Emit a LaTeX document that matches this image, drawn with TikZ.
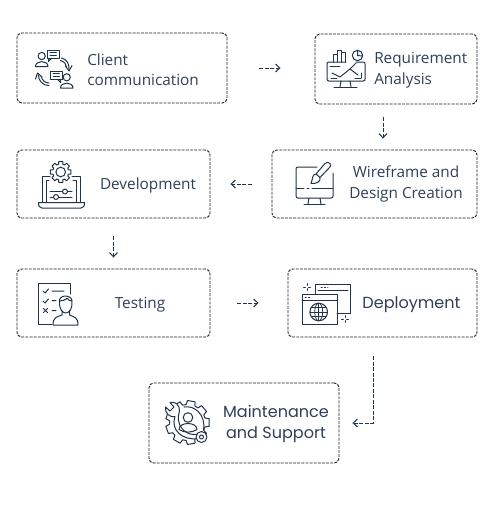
\documentclass[tikz,border=0pt]{standalone}
\usepackage{fontspec}
\setmainfont{Open Sans}
\newfontfamily\popfont{Poppins}
\usetikzlibrary{arrows.meta,calc}
\definecolor{ink}{HTML}{1F3349}
\definecolor{boxink}{HTML}{141F2C}
\definecolor{txt}{HTML}{2E4058}
\tikzset{
  stagebox/.style={draw=boxink,line width=0.7pt,dash pattern=on 2.2pt off 0.9pt,rounded corners=3.5pt,inner sep=0pt,fill=none},
  lbl/.style={text=txt,align=center,inner sep=0pt,font=\fontsize{11.5pt}{15.4pt}\selectfont},
  lblwide/.style={text=txt,align=center,inner sep=0pt,font=\popfont\fontsize{12.05pt}{15.4pt}\selectfont},
  flow/.style={draw=ink,line width=0.65pt,dash pattern=on 3pt off 1.1pt,-{Straight Barb[length=3.2pt,width=6pt,line width=0.75pt]}},
  ic/.style={draw=ink,line width=0.75pt,line cap=round,line join=round},
  icthin/.style={draw=ink,line width=0.55pt,line cap=round,line join=round},
}
\newcommand{\gearshape}[5]{% cx,cy,router,rinner,teeth
  \draw[ic] ($(#1,#2)+({90/#5}:#3)$)
   \foreach \k in {1,...,#5}{
     -- ($(#1,#2)+({(\k-1)*360/#5+90/#5}:#3)$)
     -- ($(#1,#2)+({(\k-1)*360/#5+130/#5}:#4)$)
     -- ($(#1,#2)+({(\k-1)*360/#5+230/#5}:#4)$)
     -- ($(#1,#2)+({(\k-1)*360/#5+270/#5}:#3)$)
   } -- cycle;}
\begin{document}
\begin{tikzpicture}[x=0.75pt,y=-0.75pt]
\useasboundingbox (0,0) rectangle (500,515);
% boxes
\node[stagebox,minimum width=157.5pt,minimum height=52.5pt] (A) at (122,68) {};
\node[stagebox,minimum width=121.5pt,minimum height=52.5pt] (B) at (396,69) {};
\node[stagebox,minimum width=153.75pt,minimum height=51pt] (C) at (374.5,184) {};
\node[stagebox,minimum width=144.75pt,minimum height=51pt] (D) at (113.5,184) {};
\node[stagebox,minimum width=144.75pt,minimum height=51pt] (E) at (113.5,303) {};
\node[stagebox,minimum width=141.75pt,minimum height=51pt] (F) at (382.5,303) {};
\node[stagebox,minimum width=142.5pt,minimum height=60pt] (G) at (244,423) {};
% labels
\node[lbl,anchor=west,align=left] (tA) at (87,69.8) {Client\\communication};
\node[lbl,anchor=west,align=left] (tB) at (374,70) {Requirement\\Analysis};
\node[lbl] (tC) at (406,184) {Wireframe and\\Design Creation};
\node[lbl] (tD) at (148,185.5) {Development};
\node[lbl] (tE) at (140,304.5) {Testing};
\node[lblwide] (tF) at (411.5,304.5) {Deployment};
\node[lblwide] (tG) at (276,424) {Maintenance\\and Support};
% connectors
\coordinate (xb) at (383,0);
\coordinate (xf) at (373,0);
\draw[flow,shorten <=24pt,shorten >=25.5pt] (A.east) -- (A.east -| B.west);
\draw[flow,shorten <=9.75pt,shorten >=8.25pt] (B.south -| xb) -- (C.north -| xb);
\draw[flow,shorten <=15pt,shorten >=15pt] (C.west) -- (D.east);
\draw[flow,shorten <=13.5pt,shorten >=8.25pt] (D.south) -- (E.north);
\draw[flow,shorten <=20.25pt,shorten >=21.75pt] (E.east) -- (F.west);
\draw[flow,shorten <=14pt,shorten >=9.75pt] (F.south -| xf) |- (G.east);
% icon A: client communication
\draw[ic] (41.7,56) circle (3.6);
\draw[ic] (35.5,66.5) .. controls (35.5,60) and (48,60) .. (48,66.5) -- cycle;
\draw[ic] (47.5,50) rectangle (59,58.3);
\draw[ic] (48.5,58.3) -- (48.5,61.5) -- (51.5,58.3);
\draw[icthin] (50,52.5) -- (56.5,52.5) (50,55.2) -- (56.5,55.2);
\draw[ic] (61.5,58) .. controls (66,59) and (69.5,63) .. (69,69.5);
\draw[ic] (65.5,66) -- (69,71) -- (72,65.5);
\draw[ic] (60.5,60.5) .. controls (64,61.5) and (66.5,64) .. (66.5,67);
\draw[ic] (66.7,77.3) circle (3.6);
\draw[ic] (60.5,88) .. controls (60.5,81.5) and (73,81.5) .. (73,88) -- cycle;
\draw[ic] (50.5,71) rectangle (62,79.3);
\draw[ic] (60.5,79.3) -- (60.5,82.5) -- (57.5,79.3);
\draw[icthin] (53,73.5) -- (59.5,73.5) (53,76.2) -- (59.5,76.2);
\draw[ic] (49,85.5) .. controls (43,86) and (38,80) .. (38.5,75);
\draw[ic] (35.5,79) -- (37.5,73) -- (42,77);
\draw[ic] (49,83) .. controls (45,83) and (42,80) .. (41.5,77);
% icon B: requirement analysis
\draw[ic] (346,62) -- (329,62) .. controls (327.5,62) and (327,63) .. (327,64) -- (327,79) .. controls (327,80.5) and (328,81) .. (329,81) -- (363,81) .. controls (365,81) and (365,80) .. (365,79) -- (365,64) .. controls (365,63) and (365,62) .. (363,62) -- (356,62);
\draw[ic] (333,62) -- (333,54) -- (337,54) -- (337,62);
\draw[ic] (337,60) -- (337,50) -- (341,50) -- (341,62);
\draw[ic] (341,60) -- (341,52) -- (345,52) -- (345,62);
\draw[ic] (357.5,55.5) circle (5.2);
\draw[ic] (357.5,55.5) -- (357.5,50.3) (357.5,55.5) -- (362.5,56);
\draw[ic] (332,73) -- (340,77) -- (350,69) -- (358,75);
\draw[ic] (350,69) -- (356,63);
\draw[icthin] (330,66) -- (340,66) (331,78.5) -- (337,78.5) (355,78) -- (361,78) (361,78) -- (361,73);
\draw[ic] (341,81) -- (340,86.5) (350,81) -- (351,86.5);
\draw[ic] (334,87) -- (357,87);
% icon C: wireframe
\draw[ic] (317,167) -- (298,167) .. controls (296.5,167) and (296,168) .. (296,169) -- (296,196) .. controls (296,197.5) and (297,198) .. (298,198) -- (331,198) .. controls (332.5,198) and (333,197.5) .. (333,196) -- (333,173);
\draw[ic] (296,188.5) -- (304,188.5) (307,188.5) -- (309,188.5) (312,188.5) -- (333,188.5);
\draw[ic] (309,198) -- (308,204) (320,198) -- (321,204);
\draw[ic] (304,204.5) -- (325,204.5);
\draw[ic] (325,163.5) .. controls (326.5,162) and (329,162) .. (330,163.5) .. controls (331,165) and (330.5,166.5) .. (329.5,167.5) -- (320,177.5) -- (316,174) -- cycle;
\draw[ic] (316,174) .. controls (312,174) and (313,179) .. (311,183.5) .. controls (316,184) and (321,182) .. (320,177.5);
% icon D: development
\gearshape{60.7}{172}{10.5}{8}{8}
\draw[ic] (60.7,172) circle (4.8);
\draw[ic] (50,176) -- (42,176) -- (42,202);
\draw[ic] (46,202) -- (46,180) -- (49,180);
\draw[ic] (72,176) -- (80,176) -- (80,202);
\draw[ic] (76,202) -- (76,180) -- (73,180);
\draw[ic] (38.5,202.5) -- (84.5,202.5) .. controls (85,206) and (83,208) .. (81,208) -- (42,208) .. controls (40,208) and (38,206) .. (38.5,202.5) -- cycle;
\draw[ic] (50,191.5) -- (62,191.5) (68,191.5) -- (72,191.5) (50,197) -- (53,197) (59,197) -- (72,197);
\draw[ic] (65,191.5) circle (2.5) (56,197) circle (2.5);
% icon E: testing
\draw[ic] (52,324) -- (38,324) -- (38,283) -- (70,283) -- (70,294);
\draw[ic] (43,291) -- (45,293) -- (48.5,289) (52,291) -- (64,291);
\draw[ic] (43,301) -- (45,303) -- (48.5,299) (52,300.5) -- (56,300.5);
\draw[ic] (43.5,308.5) -- (47.5,312.5) (47.5,308.5) -- (43.5,312.5) (52,310.5) -- (56,310.5);
\draw[ic] (59.5,302) .. controls (58,294) and (73,294) .. (72,302) .. controls (72.5,309) and (69,313) .. (65.8,313) .. controls (62.5,313) and (59,309) .. (59.5,302) -- cycle;
\draw[ic] (59.5,301) .. controls (62,301) and (66,300) .. (67,298) .. controls (68,300) and (70,301) .. (72,301);
\draw[ic] (62,311) -- (62,315) .. controls (57,317) and (53,317) .. (53,325) -- (78,325) .. controls (78,317) and (74,317) .. (69.5,315) -- (69.5,311);
% icon F: deployment
\draw[ic] (315,294) -- (315,284) -- (350,284) -- (350,313) -- (337,313);
\draw[ic] (318,290) -- (348,290);
\draw[ic] (302,294) rectangle (337,324);
\draw[ic] (302,300.5) -- (337,300.5);
\draw[icthin,dash pattern=on 1pt off 1.5pt] (305,297.3) -- (311,297.3) (321,287) -- (328,287);
\draw[ic] (318.7,312) circle (8.8);
\draw[icthin] (318.7,312) ellipse (4 and 8.8);
\draw[icthin] (318.7,303.2) -- (318.7,320.8) (310,312) -- (327.5,312) (311.5,307.5) -- (326,307.5) (311.5,316.5) -- (326,316.5);
\draw[icthin] (307,283.5) -- (307,285.5) (307,288.5) -- (307,290.5) (303.5,287) -- (305.5,287) (308.5,287) -- (310.5,287);
\draw[icthin] (345,315.5) -- (345,317.5) (345,320.5) -- (345,322.5) (341.5,319) -- (343.5,319) (346.5,319) -- (348.5,319);
% icon G: maintenance
\gearshape{187.5}{422.5}{22}{18}{9}
\draw[ic,fill=white] (165.5,407) -- (170,411) -- (174,407) -- (170,402.5) .. controls (175,401) and (180,405) .. (179.5,411) .. controls (175,424) and (184,436) .. (197,434.5) -- (198,438.5) .. controls (183,441) and (170,430) .. (175,416.5) .. controls (170,418) and (164.5,413) .. (165.5,407) -- cycle;
\draw[ic] (188,417.5) circle (4.8);
\draw[ic] (179,429.5) .. controls (179,421.5) and (197,421.5) .. (197,429.5) .. controls (192,433) and (184,433) .. (179,429.5) -- cycle;
\draw[ic] (184,407) .. controls (194,405) and (206,414) .. (203.5,430);
\draw[ic,fill=white] (201.5,437) circle (5.5);
\draw[ic] (201.5,437) circle (2);
\end{tikzpicture}
\end{document}
